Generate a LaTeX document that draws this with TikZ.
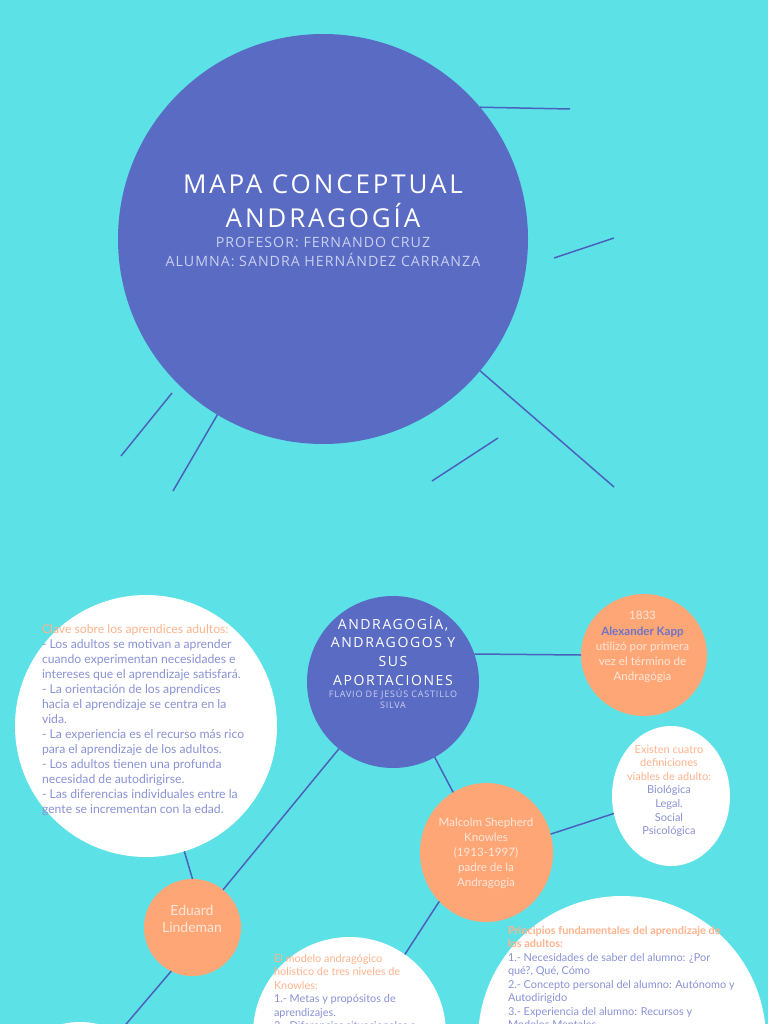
\documentclass[tikz,border=0pt]{standalone}
\usepackage{fontspec}
\usetikzlibrary{shapes.geometric}
\setmainfont{Lato}
\newfontfamily\headfont[LetterSpace=11]{Open Sans}
\newfontfamily\subfont[LetterSpace=7]{Open Sans}
\newfontfamily\midfont[LetterSpace=11.5]{Open Sans}
\newfontfamily\smallfont[LetterSpace=9]{Open Sans}
\definecolor{bgc}{HTML}{5CE1E6}
\definecolor{bluec}{HTML}{5A6BC3}
\definecolor{linec}{HTML}{4A62BE}
\definecolor{orangec}{HTML}{FFA677}
\definecolor{orangetx}{HTML}{FFB38C}
\definecolor{bluetx}{HTML}{8A93D4}
\definecolor{softw}{HTML}{FFE6D8}
\definecolor{softb}{HTML}{C9D0F2}
\definecolor{kappc}{HTML}{6C74C6}
\tikzset{
  disc/.style={circle,draw=none,inner sep=0pt,outer sep=0pt,minimum size=#1},
  blob/.style={ellipse,draw=none,inner sep=0pt,outer sep=0pt},
  link/.style={draw=linec,line width=1.5pt},
  txt/.style={inner sep=0pt,outer sep=0pt,text=white},
  body/.style={txt,align=left,anchor=north west,text=bluetx,font=\fontsize{10.9}{13.5}\selectfont},
  centered/.style={txt,align=center,anchor=north}
}
\begin{document}
\begin{tikzpicture}[x=1pt,y=-1pt]
\clip (0,0) rectangle (768,1024);
\fill[bgc] (0,0) rectangle (768,1024);

% free ends
\coordinate (e1) at (570,109);
\coordinate (e2a) at (554,258);
\coordinate (e2b) at (614,238);
\coordinate (e3) at (614,487);
\coordinate (e4a) at (498,438);
\coordinate (e4b) at (432,481);
\coordinate (e5a) at (172,393);
\coordinate (e5b) at (121,456);
\coordinate (e6) at (173,491);

% discs
\node[disc=410pt,fill=bluec] (main) at (323,239) {};
\node[disc=172pt,fill=bluec] (andra) at (393,682) {};
\node[blob,minimum width=126pt,minimum height=122pt,fill=orangec] (kapp) at (644,655) {};
\node[blob,minimum width=118pt,minimum height=140pt,fill=white] (defs) at (671,796) {};
\node[blob,minimum width=133pt,minimum height=139pt,fill=orangec] (knowles) at (486.5,852.5) {};
\node[disc=97pt,fill=orangec] (linde) at (192.5,927.5) {};
\node[disc=262pt,fill=white] (clave) at (146,726) {};
\node[disc=193pt,fill=white] (modelo) at (349.5,1033.5) {};
\node[disc=288pt,fill=white] (princ) at (622,1040) {};
\node[disc=156pt,fill=white] (last) at (80,1100) {};

% connectors
\draw[link] (main.40) -- (e1);
\draw[link] (main.-40) -- (e3);
\draw[link] (main.239) -- (e6);
\draw[link] (e2a) -- (e2b);
\draw[link] (e4a) -- (e4b);
\draw[link] (e5a) -- (e5b);
\draw[link] (andra.19) -- (kapp.180);
\draw[link] (andra.-61) -- (knowles.119);
\draw[link] (andra.231) -- (linde.51);
\draw[link] (clave.-73) -- (linde.90);
\draw[link] (knowles.16) -- (defs.197.5);
\draw[link] (knowles.226) -- (modelo.55.4);
\draw[link] (linde.244) -- (last.60);

% texts
\node[centered,font=\fontsize{26}{34}\headfont] (t1) at (323,174.5) {MAPA CONCEPTUAL\\ANDRAGOGÍA};
\node[centered,font=\fontsize{14.2}{19}\subfont,text=softb] (t2) at (323,237.5) {PROFESOR: FERNANDO CRUZ\\ALUMNA: SANDRA HERNÁNDEZ CARRANZA};

\node[centered,font=\fontsize{14}{18.7}\midfont] (t3) at (393,616) {ANDRAGOGÍA,\\ANDRAGOGOS Y\\SUS\\APORTACIONES};
\node[centered,font=\fontsize{9}{11}\smallfont,text=softb] (t4) at (393,689) {FLAVIO DE JESÚS CASTILLO\\SILVA};

\node[centered,font=\fontsize{11.6}{15.2}\selectfont,text=softw] (t5) at (642.5,611.5) {1833\\{\color{kappc}\bfseries Alexander Kapp}\\utilizó por primera\\vez el término de\\Andragógia};
\node[centered,font=\fontsize{11}{13.6}\selectfont,text=orangetx] (t6) at (669,745) {Existen cuatro\\definiciones\\viables de adulto:\\{\color{bluetx}Biológica}\\{\color{bluetx}Legal.}\\{\color{bluetx}Social}\\{\color{bluetx}Psicológica}};
\node[centered,font=\fontsize{11.6}{15.1}\selectfont,text=softw] (t7) at (486,818) {Malcolm Shepherd\\Knowles\\(1913-1997)\\padre de la\\Andragogía};
\node[centered,font=\fontsize{14}{17}\selectfont,text=softw] (t8) at (192,905) {Eduard\\Lindeman};

\node[body,font=\fontsize{12.2}{15}\selectfont] (t9) at (42,624.5) {\textcolor{orangetx}{Clave sobre los aprendices adultos:}\\
- Los adultos se motivan a aprender\\
cuando experimentan necesidades e\\
intereses que el aprendizaje satisfará.\\
- La orientación de los aprendices\\
hacia el aprendizaje se centra en la\\
vida.\\
- La experiencia es el recurso más rico\\
para el aprendizaje de los adultos.\\
- Los adultos tienen una profunda\\
necesidad de autodirigirse.\\
- Las diferencias individuales entre la\\
gente se incrementan con la edad.};

\node[body] (t10) at (274,954) {\textcolor{orangetx}{El modelo andragógico}\\
\textcolor{orangetx}{holístico de tres niveles de}\\
\textcolor{orangetx}{Knowles:}\\
1.- Metas y propósitos de\\
aprendizajes.\\
2.- Diferencias situacionales e};

\node[body] (t11) at (508,926) {\textcolor{orangetx}{\bfseries Principios fundamentales del aprendizaje de}\\
\textcolor{orangetx}{\bfseries los adultos:}\\
1.- Necesidades de saber del alumno: ¿Por\\
qué?, Qué, Cómo\\
2.- Concepto personal del alumno: Autónomo y\\
Autodirigido\\
3.- Experiencia del alumno: Recursos y\\
Modelos Mentales};
\end{tikzpicture}
\end{document}
